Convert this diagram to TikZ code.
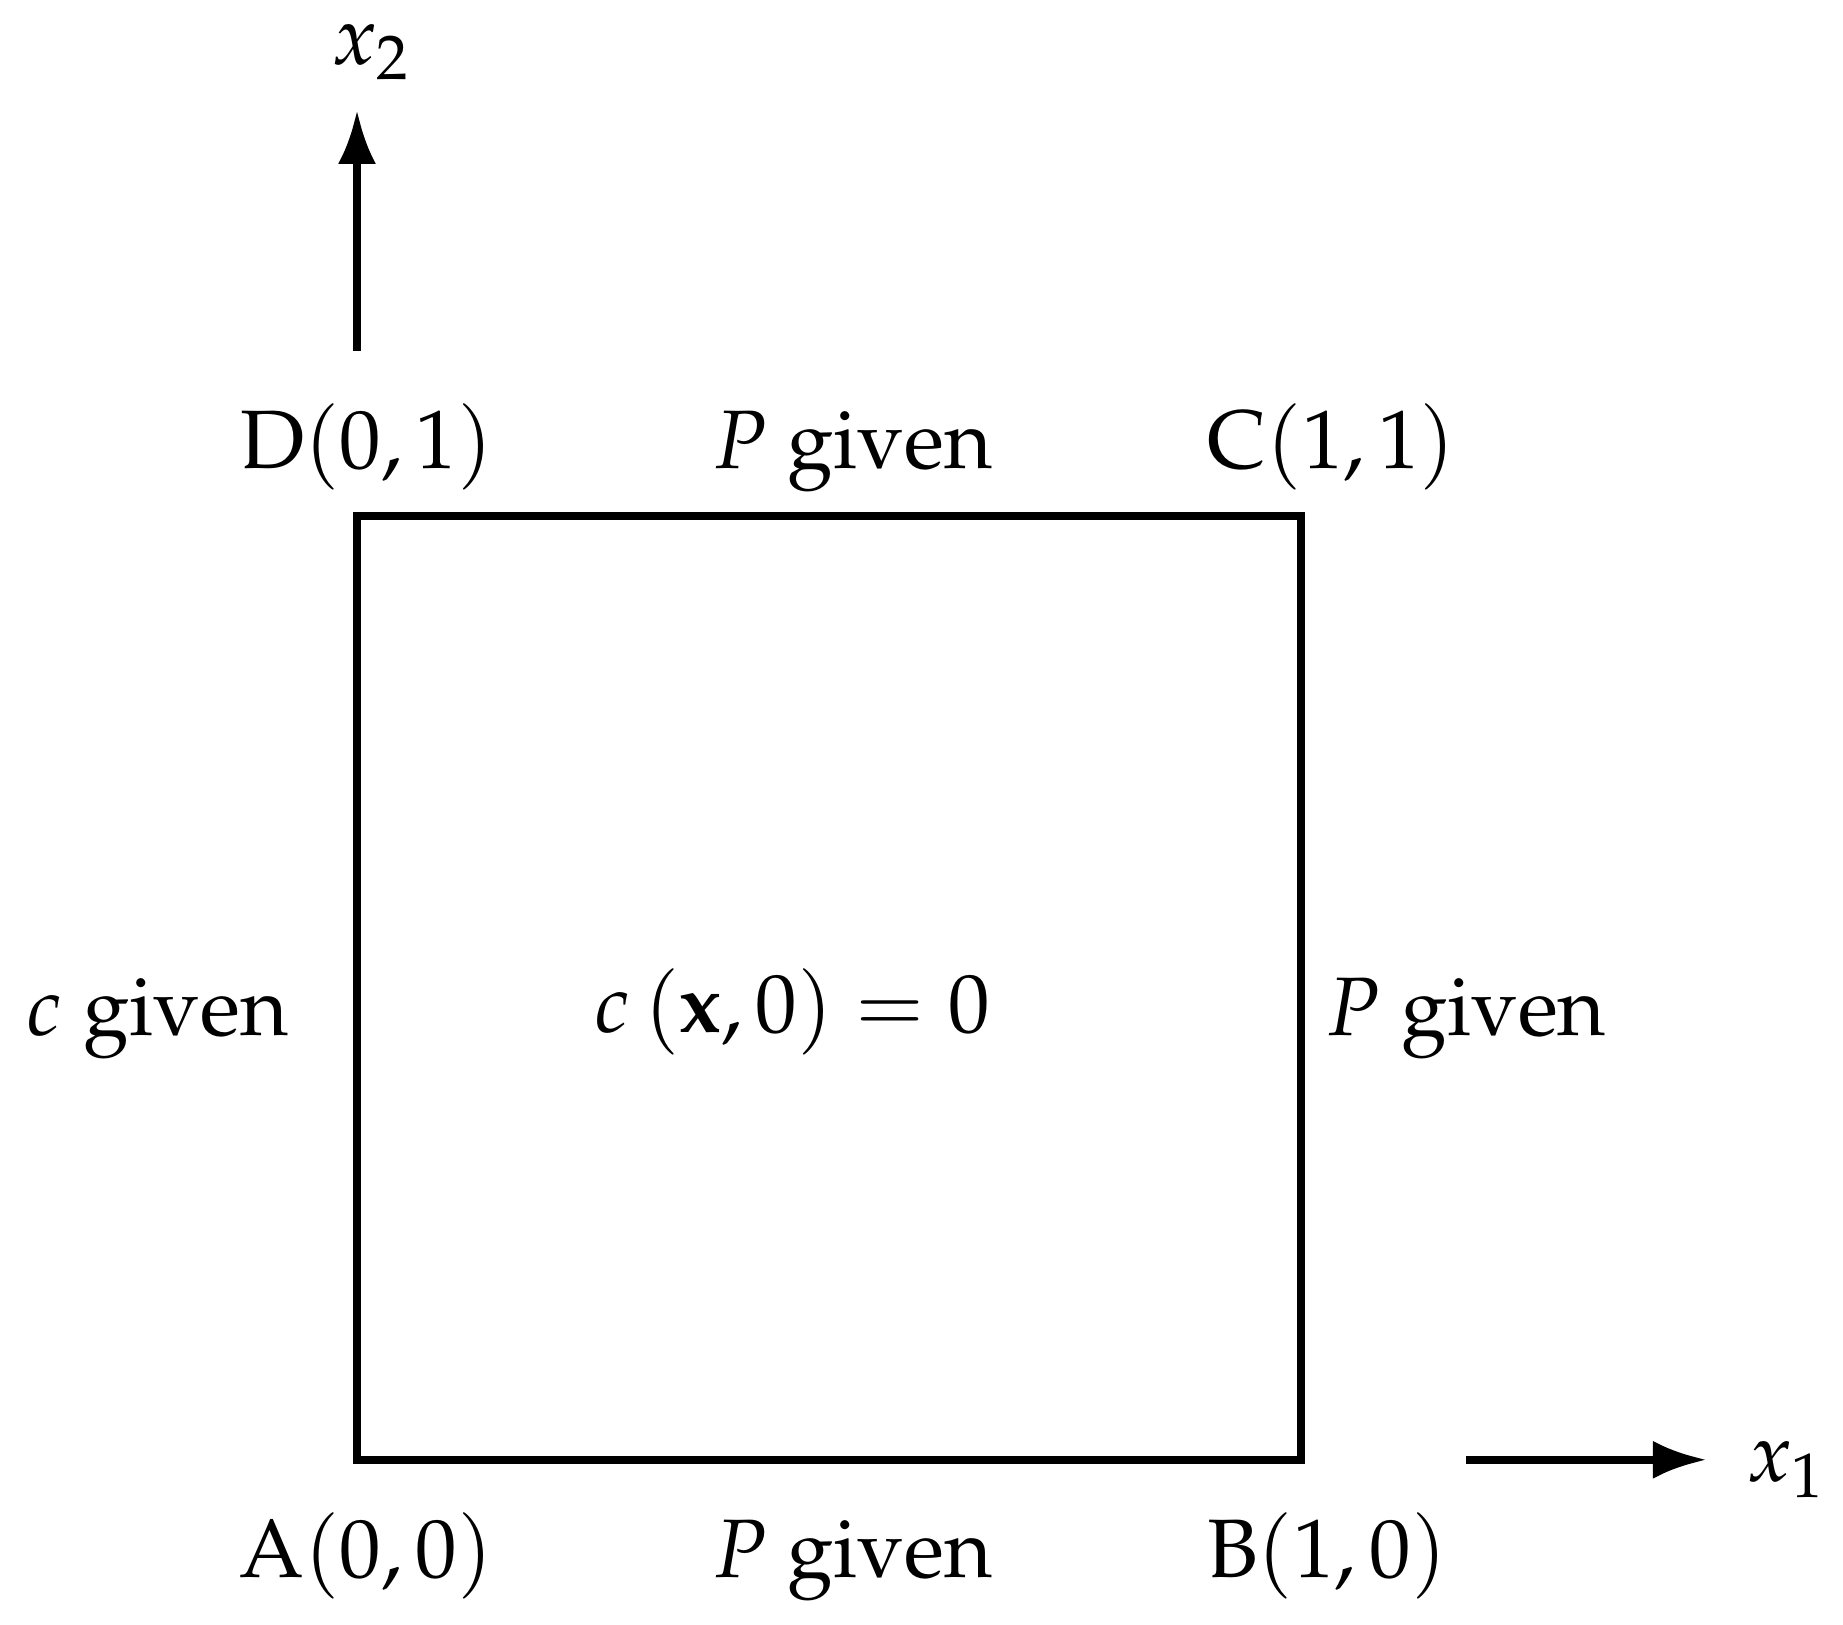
\documentclass[tikz,border=0pt]{standalone}
\usepackage[T1]{fontenc}
\usepackage{mathpazo}
\usepackage{amsmath,bm}
\usetikzlibrary{arrows.meta}

\begin{document}
\begin{tikzpicture}[edge/.style={line width=0.95pt},axis/.style={edge,-{Latex[length=6.5pt,width=4.6pt]}},lbl/.style={anchor=base,inner sep=0pt}]
            \useasboundingbox (-1.513,-0.699) rectangle (6.297,6.186);
            \coordinate (A) at (0,0);
            \coordinate (B) at (4,0);
            \coordinate (C) at (4,4);
            \coordinate (D) at (0,4);
            \coordinate (x1s) at (4.7,0);
            \coordinate (x1e) at (5.72,0);
            \coordinate (x2s) at (0,4.7);
            \coordinate (x2e) at (0,5.72);
            \draw[edge] (A)--(B)--(C)--(D)--cycle;
            \draw[axis] (x1s)--(x1e);
            \draw[axis] (x2s)--(x2e);
            \node[lbl] (x1) at (6.06,-0.093) {\(x_1\)};
            \node[lbl] (x2) at (0.064,5.911) {\(x_2\)};
            \node[lbl] (Alab) at (0.04,-0.5) {A\((0,0)\)};
            \node[lbl] (Blab) at (4.11,-0.5) {B\((1,0)\)};
            \node[lbl] (Clab) at (4.13,4.2) {C\((1,1)\)};
            \node[lbl] (Dlab) at (0.04,4.2) {D\((0,1)\)};
            \node[lbl] (bottom) at (2.1,-0.5) {\(P\) given};
            \node[lbl] (top) at (2.1,4.2) {\(P\) given};
            \node[lbl] (right) at (4.7,1.8) {\(P\) given};
            \node[lbl] (left) at (-0.845,1.8) {\(c\) given};
            \node[lbl] (init) at (1.843,1.81) {\(c\left(\mathbf{x},0\right)=0\)};
        \end{tikzpicture}
\end{document}
